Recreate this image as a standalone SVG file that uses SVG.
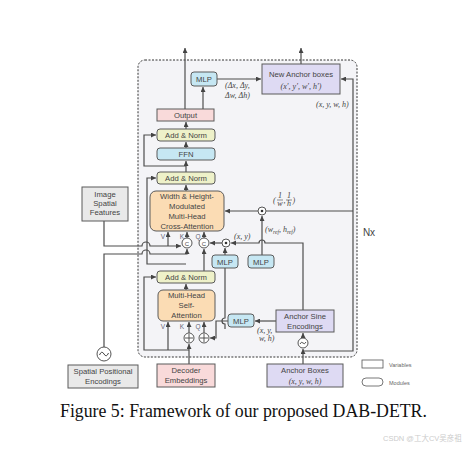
<svg xmlns="http://www.w3.org/2000/svg" width="474" height="451" viewBox="0 0 474 451">
<defs>
<marker id="a" markerUnits="userSpaceOnUse" markerWidth="5" markerHeight="5" refX="5" refY="2.5" orient="auto"><path d="M0,0 L5,2.5 L0,5 z" fill="#444"/></marker>
</defs>
<style>
.n{stroke:#5a5a5a;stroke-width:1}
.blue{fill:#c6e7f3}.yel{fill:#eef1c9}.pink{fill:#f9dada}.org{fill:#fbdcb4}.lav{fill:#dedaf3}.gry{fill:#e9e9e9}
.t{font-family:"Liberation Sans",Arial,sans-serif;font-size:7.7px;fill:#444;text-anchor:middle}
.m{font-family:"Liberation Serif",serif;font-style:italic;font-size:8px;fill:#444}
.l{fill:none;stroke:#4d4d4d;stroke-width:1.2}
.ar{marker-end:url(#a)}
.c{fill:#fff;stroke:#555;stroke-width:1}
</style>
<rect width="474" height="451" fill="#fff"/>
<rect id="frame" x="138" y="60" width="219" height="297" rx="7" fill="#f4f4f7" stroke="#333" stroke-width="1" stroke-dasharray="2 1.5"/>

<g id="connectors">
<path class="l ar" d="M185,109 V48"/>
<path class="l ar" d="M301,64 V48"/>
<path class="l ar" d="M203,109 V87"/>
<path class="l ar" d="M217,79 H261"/>
<path class="l ar" d="M303,351 H353 V79 H341"/>
<path class="l" d="M353,211 H266"/>
<path class="l ar" d="M258,211 H225"/>
<path class="l ar" d="M262,255 V216"/>
<path class="l ar" d="M303,310 V243 H265 A3,3 0 0 0 259,243 H231"/>
<path class="l ar" d="M222,243 H210"/>
<path class="l ar" d="M225,255 V248"/>
<path class="l ar" d="M104,221 V246 H142 A4,4 0 0 1 150,246 H181"/>
<path class="l ar" d="M168,246 V232"/>
<path class="l ar" d="M104,347 V254 H142 A4,4 0 0 1 150,254 H187 V249"/>
<path class="l ar" d="M187,238 V232"/>
<path class="l ar" d="M204,238 V232"/>
<path class="l ar" d="M204,271 V249"/>
<path class="l ar" d="M186,290 V284"/>
<path class="l ar" d="M186,191 V185"/>
<path class="l ar" d="M186,172 V161"/>
<path class="l ar" d="M186,148 V142"/>
<path class="l ar" d="M186,129 V122"/>
<path class="l ar" d="M186,166 H144 V135 H156"/>
<path class="l ar" d="M186,264 H147 V178 H156"/>
<path class="l ar" d="M189,364 V344"/>
<path class="l ar" d="M189,333 V322"/>
<path class="l ar" d="M204,333 V322"/>
<path class="l ar" d="M189,350 H144 V277 H156"/>
<path class="l ar" d="M168,350 V322"/>
<path class="l ar" d="M303,364 V349"/>
<path class="l ar" d="M303,338 V333"/>
<path class="l ar" d="M276,321 H255"/>
<path class="l ar" d="M228,321 H216 V338 H210"/>
<path class="l" d="M225,268 V318 A3,3 0 0 0 225,324 V329"/>
</g>

<g id="mlp_top"><rect class="n blue" x="191" y="72" width="26" height="14" rx="3"/><text class="t" x="204" y="82">MLP</text></g>
<g id="new_anchor"><rect class="n lav" x="262" y="64" width="78" height="30"/><text class="t" x="301" y="77">New Anchor boxes</text><text class="m" x="301" y="89" text-anchor="middle">(x′, y′, w′, h′)</text></g>
<g id="output"><rect class="n pink" x="157" y="109" width="57" height="12"/><text class="t" x="185.5" y="118">Output</text></g>
<g id="addnorm1"><rect class="n yel" x="157" y="129" width="58" height="12" rx="3"/><text class="t" x="186" y="138">Add &amp; Norm</text></g>
<g id="ffn"><rect class="n blue" x="157" y="148" width="58" height="12" rx="3"/><text class="t" x="186" y="157">FFN</text></g>
<g id="addnorm2"><rect class="n yel" x="157" y="172" width="58" height="12" rx="3"/><text class="t" x="186" y="181">Add &amp; Norm</text></g>
<g id="cross_attn"><rect class="n org" x="150" y="191" width="74" height="40" rx="6"/>
<text class="t" x="187" y="199">Width &amp; Height-</text><text class="t" x="187" y="209">Modulated</text><text class="t" x="187" y="219">Multi-Head</text><text class="t" x="187" y="229">Cross-Attention</text></g>
<g id="concat_k"><circle class="c" cx="187" cy="243" r="5"/><text class="t" x="187" y="245.5" style="font-size:6px">C</text></g>
<g id="concat_q"><circle class="c" cx="204" cy="243" r="5"/><text class="t" x="204" y="245.5" style="font-size:6px">C</text></g>
<g id="dot1"><circle class="c" cx="226" cy="243" r="4"/><circle cx="226" cy="243" r="1.3" fill="#333"/></g>
<g id="dot2"><circle class="c" cx="262" cy="211" r="4"/><circle cx="262" cy="211" r="1.3" fill="#333"/></g>
<g id="mlp_l"><rect class="n blue" x="212" y="255" width="26" height="13" rx="3"/><text class="t" x="225" y="264.5">MLP</text></g>
<g id="mlp_r"><rect class="n blue" x="248" y="255" width="26" height="13" rx="3"/><text class="t" x="261" y="264.5">MLP</text></g>
<g id="addnorm3"><rect class="n yel" x="157" y="271" width="58" height="12" rx="3"/><text class="t" x="186" y="280">Add &amp; Norm</text></g>
<g id="self_attn"><rect class="n org" x="158" y="290" width="57" height="31" rx="5"/>
<text class="t" x="186.5" y="298">Multi-Head</text><text class="t" x="186.5" y="308">Self-</text><text class="t" x="186.5" y="318">Attention</text></g>
<g id="plus_k"><circle class="c" cx="189" cy="338" r="5"/><path d="M185,338 H193 M189,334 V342" stroke="#444" stroke-width="0.9"/></g>
<g id="plus_q"><circle class="c" cx="204" cy="338" r="5"/><path d="M200,338 H208 M204,334 V342" stroke="#444" stroke-width="0.9"/></g>
<g id="mlp_b"><rect class="n blue" x="228" y="314" width="26" height="13" rx="3"/><text class="t" x="241" y="323.5">MLP</text></g>
<g id="sine_enc"><rect class="n lav" x="276" y="310" width="58" height="22"/><text class="t" x="305" y="319">Anchor Sine</text><text class="t" x="305" y="329">Encodings</text></g>
<g id="sine_a"><circle class="c" cx="303" cy="343" r="5"/><path d="M300,344 q1.5,-3 3,-1 t3,-1" fill="none" stroke="#444" stroke-width="0.9"/></g>
<g id="decoder_emb"><rect class="n pink" x="157" y="364" width="58" height="23"/><text class="t" x="186" y="373">Decoder</text><text class="t" x="186" y="383">Embeddings</text></g>
<g id="anchor_boxes"><rect class="n lav" x="267" y="364" width="76" height="23"/><text class="t" x="305" y="373">Anchor Boxes</text><text class="m" x="305" y="383.5" text-anchor="middle">(x, y, w, h)</text></g>
<g id="image_feat"><rect class="n gry" x="82" y="187" width="46" height="34"/><text class="t" x="105" y="197">Image</text><text class="t" x="105" y="206">Spatial</text><text class="t" x="105" y="215">Features</text></g>
<g id="spatial_pe"><rect class="n gry" x="68" y="365" width="70" height="23"/><text class="t" x="103" y="374">Spatial Positional</text><text class="t" x="103" y="384">Encodings</text></g>
<g id="sine_s"><circle class="c" cx="104" cy="354" r="7"/><path d="M99.5,355 q2.2,-5 4.5,-1 t4.5,-1" fill="none" stroke="#444" stroke-width="1"/></g>

<g id="labels">
<text class="m" x="225" y="88">(Δx, Δy,</text><text class="m" x="225" y="98">Δw, Δh)</text>
<text class="m" x="316" y="107">(x, y, w, h)</text>
<text class="m" x="265" y="232">(w<tspan font-size="5.5" dy="1.5">ref</tspan><tspan dy="-1.5">, h</tspan><tspan font-size="5.5" dy="1.5">ref</tspan><tspan dy="-1.5">)</tspan></text>
<text class="m" x="234" y="239">(x, y)</text>
<text class="m" x="257" y="333">(x, y,</text><text class="m" x="259" y="341">w, h)</text>
<text class="m" x="273" y="203">(</text><text class="m" x="280" y="198" text-anchor="middle" font-size="6">1</text><path d="M277,200 H283 M286,200 H292" stroke="#444" stroke-width="0.6"/><text class="m" x="280" y="206" text-anchor="middle" font-size="6">w</text><text class="m" x="283.5" y="203">,</text><text class="m" x="289" y="198" text-anchor="middle" font-size="6">1</text><text class="m" x="289" y="206" text-anchor="middle" font-size="6">h</text><text class="m" x="292.5" y="203">)</text>
<text class="t" x="163" y="239" style="font-size:6.5px;fill:#667">V</text><text class="t" x="182" y="239" style="font-size:6.5px;fill:#667">K</text><text class="t" x="198" y="239" style="font-size:6.5px;fill:#667">Q</text>
<text class="t" x="163" y="329" style="font-size:6.5px;fill:#667">V</text><text class="t" x="182" y="329" style="font-size:6.5px;fill:#667">K</text><text class="t" x="198" y="329" style="font-size:6.5px;fill:#667">Q</text>
<text class="t" x="369" y="236" style="font-size:10px;text-anchor:middle">Nx</text>
</g>

<g id="legend">
<rect x="362" y="360" width="21" height="8" fill="#fff" stroke="#555" stroke-width="0.8"/><text x="389" y="366.5" style="font-family:'Liberation Sans',sans-serif;font-size:5.5px;fill:#666">Variables</text>
<rect x="362" y="378" width="21" height="8" rx="4" fill="#fff" stroke="#555" stroke-width="0.8"/><text x="389" y="384.5" style="font-family:'Liberation Sans',sans-serif;font-size:5.5px;fill:#666">Modules</text>
</g>
<text x="60" y="417" style="font-family:'Liberation Serif',serif;font-size:17.8px;fill:#111">Figure 5: Framework of our proposed DAB-DETR.</text>
<text x="383" y="441" style="font-family:'Liberation Sans','Noto Sans CJK SC',sans-serif;font-size:7.5px;fill:#ccc">CSDN @工大CV吴彦祖</text>
</svg>
